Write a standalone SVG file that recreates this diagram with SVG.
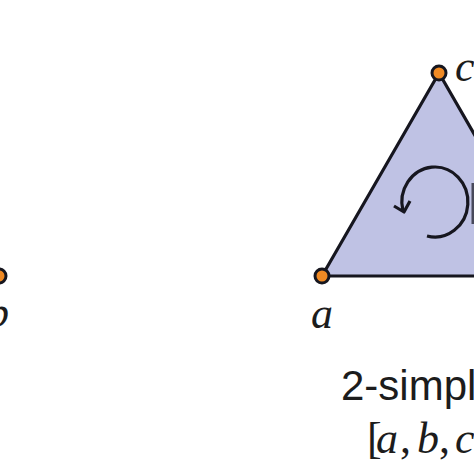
<svg xmlns="http://www.w3.org/2000/svg" width="474" height="474" viewBox="0 0 474 474">
<style>
.edge{stroke:#16161f;stroke-width:3.2;stroke-linejoin:round;fill:none}
.vtx{fill:#f08a24;stroke:#16161f;stroke-width:3}
.lbl{font-family:"Liberation Serif",serif;font-style:italic;font-size:44px;fill:#1c1c1c}
.math{font-family:"Liberation Serif",serif;font-size:44px;fill:#1c1c1c}
.title{font-family:"Liberation Sans",sans-serif;font-size:42px;fill:#1c1c1c}
</style>
<g id="simplex0">
  <circle class="vtx" cx="-1" cy="276" r="7"/>
  <text class="lbl" x="-13" y="327">b</text>
</g>
<g id="face">
  <polygon points="322,276 439,73 556,276" class="edge" style="fill:#bfc2e4"/>
</g>
<g id="connectors">
  <path class="edge" d="M427,236 A33,35 0 1 0 403,211" stroke-width="3"/>
  <path class="edge" d="M394,206 L404,212 L410,201" stroke-width="3"/>
  <path d="M473,183 L473,224" stroke="#2a2a38" stroke-width="3" stroke-opacity="0.8" fill="none"/>
</g>
<g id="vertex-a">
  <circle class="vtx" cx="322" cy="276" r="7"/>
  <text class="lbl" x="322" y="328" text-anchor="middle">a</text>
</g>
<g id="vertex-c">
  <circle class="vtx" cx="439" cy="73" r="7"/>
  <text class="lbl" x="455" y="81">c</text>
</g>
<g id="caption">
  <text class="title" x="341" y="400">2-simplex</text>
  <text class="math" y="453"><tspan x="367">[</tspan><tspan x="376" font-style="italic">a</tspan><tspan x="400">,</tspan><tspan x="417" font-style="italic">b</tspan><tspan x="439">,</tspan><tspan x="455" font-style="italic">c</tspan><tspan x="478">]</tspan></text>
</g>
</svg>
